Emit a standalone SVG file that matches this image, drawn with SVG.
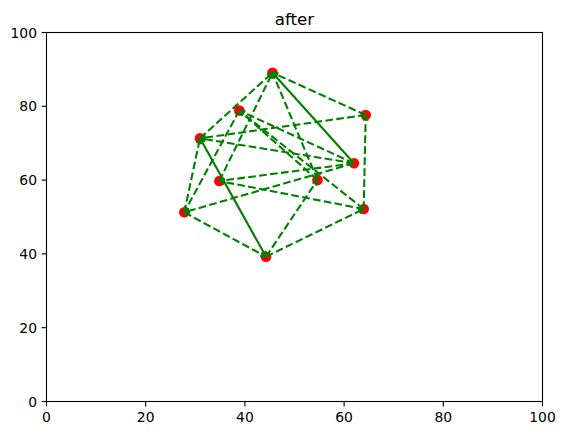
<svg xmlns="http://www.w3.org/2000/svg" width="565" height="435" viewBox="0 0 565 435">
<style>
.tick{stroke:#000;stroke-width:1.1}
.tl{font-family:"DejaVu Sans","Liberation Sans",sans-serif;font-size:13.9px;fill:#000}
.tx{text-anchor:middle}
.ty{text-anchor:end}
.node{fill:#ff0000}
.e{stroke:#008000;stroke-width:2.08;fill:none;marker-end:url(#ah)}
.d{stroke-dasharray:7.7 3.3}
</style>
<defs>
<marker id="ah" markerUnits="userSpaceOnUse" markerWidth="20" markerHeight="20" viewBox="-10 -10 20 20" refX="0" refY="0" orient="auto" overflow="visible">
<path d="M-5.5,-2.4 L-1,0 L-5.5,2.4" fill="none" stroke="#008000" stroke-width="1.8" stroke-dasharray="none"/>
</marker>
</defs>
<rect x="0" y="0" width="565" height="435" fill="#fff"/>
<text x="294.5" y="24.7" text-anchor="middle" font-family="DejaVu Sans, Liberation Sans, sans-serif" font-size="16.7" fill="#000">after</text>
<g id="axes">
<rect x="46.5" y="32.5" width="496" height="369" fill="none" stroke="#000" stroke-width="1.1"/>
<g class="tick">
<line x1="46.5" y1="401.5" x2="46.5" y2="406.4"/>
<line x1="145.7" y1="401.5" x2="145.7" y2="406.4"/>
<line x1="244.9" y1="401.5" x2="244.9" y2="406.4"/>
<line x1="344.1" y1="401.5" x2="344.1" y2="406.4"/>
<line x1="443.3" y1="401.5" x2="443.3" y2="406.4"/>
<line x1="542.5" y1="401.5" x2="542.5" y2="406.4"/>
<line x1="41.6" y1="401.5" x2="46.5" y2="401.5"/>
<line x1="41.6" y1="327.7" x2="46.5" y2="327.7"/>
<line x1="41.6" y1="253.9" x2="46.5" y2="253.9"/>
<line x1="41.6" y1="180.1" x2="46.5" y2="180.1"/>
<line x1="41.6" y1="106.3" x2="46.5" y2="106.3"/>
<line x1="41.6" y1="32.5" x2="46.5" y2="32.5"/>
</g>
<g class="tl tx">
<text x="46.5" y="422">0</text>
<text x="145.7" y="422">20</text>
<text x="244.9" y="422">40</text>
<text x="344.1" y="422">60</text>
<text x="443.3" y="422">80</text>
<text x="542.5" y="422">100</text>
</g>
<g class="tl ty">
<text x="37" y="406.5">0</text>
<text x="37" y="332.7">20</text>
<text x="37" y="258.9">40</text>
<text x="37" y="185.1">60</text>
<text x="37" y="111.3">80</text>
<text x="37" y="37.5">100</text>
</g>
</g>
<g id="node-A"><circle class="node" cx="272.5" cy="72.7" r="5.3"/></g>
<g id="node-B"><circle class="node" cx="365.7" cy="115" r="5.3"/></g>
<g id="node-C"><circle class="node" cx="239.3" cy="110.5" r="5.3"/></g>
<g id="node-D"><circle class="node" cx="200" cy="138.3" r="5.3"/></g>
<g id="node-E"><circle class="node" cx="354" cy="163.3" r="5.3"/></g>
<g id="node-F"><circle class="node" cx="317.5" cy="180" r="5.3"/></g>
<g id="node-G"><circle class="node" cx="219.3" cy="181" r="5.3"/></g>
<g id="node-H"><circle class="node" cx="184.3" cy="212.3" r="5.3"/></g>
<g id="node-I"><circle class="node" cx="363.7" cy="209" r="5.3"/></g>
<g id="node-J"><circle class="node" cx="266" cy="256.7" r="5.3"/></g>
<g id="connectors">
<line class="e d" x1="365.7" y1="115" x2="272.5" y2="72.7"/>
<line class="e" x1="354" y1="163.3" x2="272.5" y2="72.7"/>
<line class="e d" x1="317.5" y1="180" x2="272.5" y2="72.7"/>
<line class="e d" x1="200" y1="138.3" x2="272.5" y2="72.7"/>
<line class="e d" x1="219.3" y1="181" x2="272.5" y2="72.7"/>
<line class="e d" x1="365.7" y1="115" x2="200" y2="138.3"/>
<line class="e d" x1="363.7" y1="209" x2="365.7" y2="115"/>
<line class="e d" x1="354" y1="163.3" x2="239.3" y2="110.5"/>
<line class="e d" x1="317.5" y1="180" x2="239.3" y2="110.5"/>
<line class="e d" x1="363.7" y1="209" x2="239.3" y2="110.5"/>
<line class="e d" x1="239.3" y1="110.5" x2="184.3" y2="212.3"/>
<line class="e d" x1="354" y1="163.3" x2="200" y2="138.3"/>
<line class="e d" x1="184.3" y1="212.3" x2="200" y2="138.3"/>
<line class="e" x1="200" y1="138.3" x2="266" y2="256.7"/>
<line class="e d" x1="354" y1="163.3" x2="219.3" y2="181"/>
<line class="e d" x1="363.7" y1="209" x2="219.3" y2="181"/>
<line class="e d" x1="354" y1="163.3" x2="184.3" y2="212.3"/>
<line class="e d" x1="184.3" y1="212.3" x2="266" y2="256.7"/>
<line class="e d" x1="266" y1="256.7" x2="317.5" y2="180"/>
<line class="e d" x1="266" y1="256.7" x2="363.7" y2="209"/>
</g>
</svg>
